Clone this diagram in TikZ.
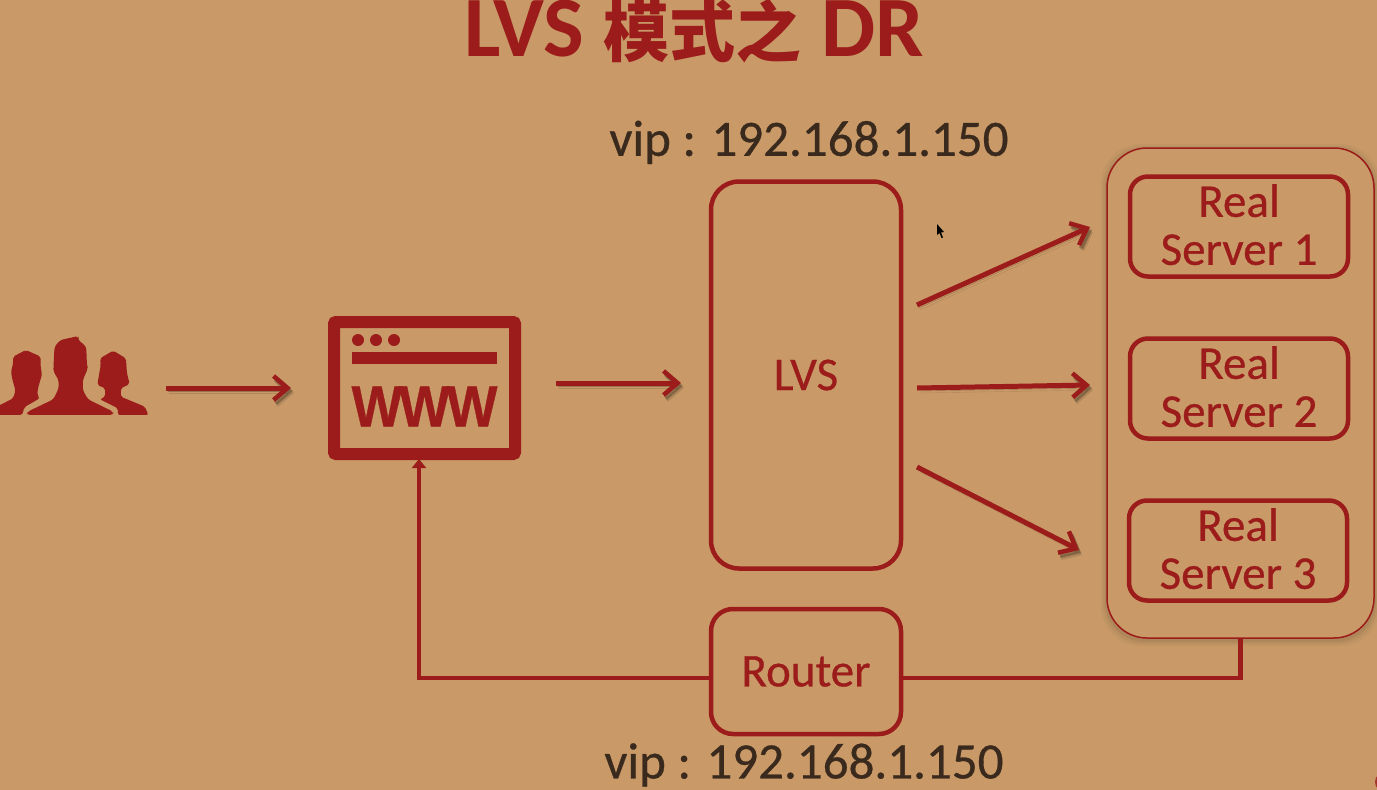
\documentclass[tikz,border=0pt]{standalone}
\usepackage{fontspec}
\setmainfont{Carlito}
\newfontfamily\labelfont[FakeBold=0.6]{Carlito}
\newfontfamily\cjkfont{Noto Sans CJK SC}
\newfontfamily\iconfont[FakeBold=0.6]{Liberation Sans}
\usetikzlibrary{positioning,arrows.meta}
\definecolor{bgtan}{HTML}{C99A68}
\definecolor{darkred}{HTML}{9B1C1A}
\definecolor{vipink}{HTML}{3A2A1E}
\newcommand{\serverlabel}[1]{Real\\Server #1\rule[-4pt]{0pt}{4pt}}

\begin{document}
\begin{tikzpicture}[
x=1pt,y=-1pt,
titletext/.style={text=darkred, font=\fontsize{86}{86}\selectfont\bfseries, inner sep=0pt},
viptext/.style={text=vipink, font=\labelfont\fontsize{51}{51}\selectfont, inner sep=0pt},
boxnode/.style={rectangle, rounded corners=28pt, draw=darkred, line width=4.5pt, text=darkred, font=\labelfont\fontsize{47}{48}\selectfont, align=center, inner sep=0pt},
servernode/.style={boxnode, rounded corners=18pt, minimum width=218pt, minimum height=100pt},
flowarrow/.style={draw=darkred, line width=5pt, -{Straight Barb[length=14pt,width=24pt,line width=4.5pt]},
  preaction={draw=black, opacity=.12, transform canvas={shift={(3pt,-5pt)}}},
  preaction={draw=black, opacity=.25, transform canvas={shift={(2pt,-3pt)}}}},
linkline/.style={draw=darkred, line width=4.5pt},
]
\useasboundingbox (0,0) rectangle (1377,790);
\fill[bgtan] (0,0) rectangle (1377,790);

%Nodes
\node[titletext] (title) at (694,31) {LVS {\cjkfont\fontsize{66}{66}\selectfont 模式之} DR};
\node[boxnode, minimum width=190pt, minimum height=387pt] (lvs) at (806,375) {LVS};
\node[boxnode, minimum width=190pt, minimum height=125pt, rounded corners=22pt] (router) at (806,671.5) {Router};
\node[viptext, above=15pt of lvs, xshift=3pt] (viptop) {vip : 192.168.1.150};
\node[viptext] (vipbottom) at (804,765) {vip : 192.168.1.150};

%soft edge round the group
\foreach \grow/\shade in {6/.03,4/.04,2/.06}
  \fill[black, opacity=\shade, rounded corners=40pt] (1107-\grow,148-\grow+2) rectangle (1374+\grow,638+\grow+2);
\node[rectangle, rounded corners=40pt, draw=darkred, line width=1.5pt, fill=bgtan, minimum width=267pt, minimum height=490pt] (pool) at (1240.5,393) {};
\node[servernode] (rs1) at (1239,226.5) {\serverlabel{1}};
\node[servernode, below=57.5pt of rs1] (rs2) {\serverlabel{2}};
\node[servernode, below=57.5pt of rs2, xshift=-1pt] (rs3) {\serverlabel{3}};

%www icon
\node[rectangle, rounded corners=2pt, draw=darkred, line width=12pt, minimum width=181pt, minimum height=132pt] (www) at (424.5,388) {};
\foreach \dotx in {358,376,394}
  \fill[darkred] (\dotx,340) circle (6pt);
\fill[darkred] (352,352) rectangle (497,364);
\node[text=darkred, inner sep=0pt, font=\iconfont\fontsize{54}{54}\selectfont\bfseries] (wwwtext) at (424.5,406.5) {\scalebox{1}[1.08]{W\kern-3.5pt W\kern-3.5pt W}};

%people icon
\begin{scope}[x=0.345pt,y=-0.3333pt,yshift=-300pt]
\fill[darkred, rounded corners=2pt] (-5,345) -- (-5,318) -- (38,295) -- (45,272) -- (35,235) -- (32,215) -- (38,190) -- (38,170) -- (75,150) -- (118,170) -- (118,205) -- (122,222) -- (110,265) -- (108,285) -- (115,295) -- (70,322) -- (65,345) -- cycle;
\fill[darkred, rounded corners=3pt] (78,345) -- (80,335) -- (155,298) -- (170,265) -- (170,240) -- (155,215) -- (155,200) -- (158,140) -- (175,120) -- (228,108) -- (225,118) -- (250,140) -- (252,195) -- (255,205) -- (240,240) -- (240,270) -- (255,298) -- (328,335) -- (328,345) -- cycle;
\fill[darkred, rounded corners=2pt] (342,345) -- (342,325) -- (290,298) -- (305,290) -- (305,265) -- (282,255) -- (292,195) -- (290,175) -- (328,152) -- (365,175) -- (368,220) -- (376,252) -- (350,265) -- (350,290) -- (420,320) -- (430,345) -- cycle;
\end{scope}

%free ends of the lines
\coordinate (peopleout) at (166,388);
\coordinate (wwwin)     at (291,388);
\coordinate (wwwout)    at (556,383);
\coordinate (lvsin)     at (681,383);
\coordinate (lvsa)      at (917,305);
\coordinate (lvsb)      at (917,388);
\coordinate (lvsc)      at (917,467);
\coordinate (rsa)       at (1090,227);
\coordinate (rsb)       at (1090,385);
\coordinate (rsc)       at (1079,550);
\coordinate (wwwret)    at (419,459);

%Lines
\draw[flowarrow] (peopleout) -- (wwwin);
\draw[flowarrow] (wwwout) -- (lvsin);
\draw[flowarrow] (lvsa) -- (rsa);
\draw[flowarrow] (lvsb) -- (rsb);
\draw[flowarrow] (lvsc) -- (rsc);
\draw[linkline, -{Triangle[length=9pt,width=14pt]}] ([yshift=-6.5pt]router.west) -| (wwwret);
\draw[linkline] ([yshift=-6.5pt]router.east) -| (pool.south);

%cursor
\fill[black] (937,224) -- (937,235) -- (939.5,233) -- (941.5,238) -- (943,237.5) -- (941,232.5) -- (944,232) -- cycle;
\fill[darkred!80!bgtan] (1385,782) circle (10pt);
\end{tikzpicture}
\end{document}
